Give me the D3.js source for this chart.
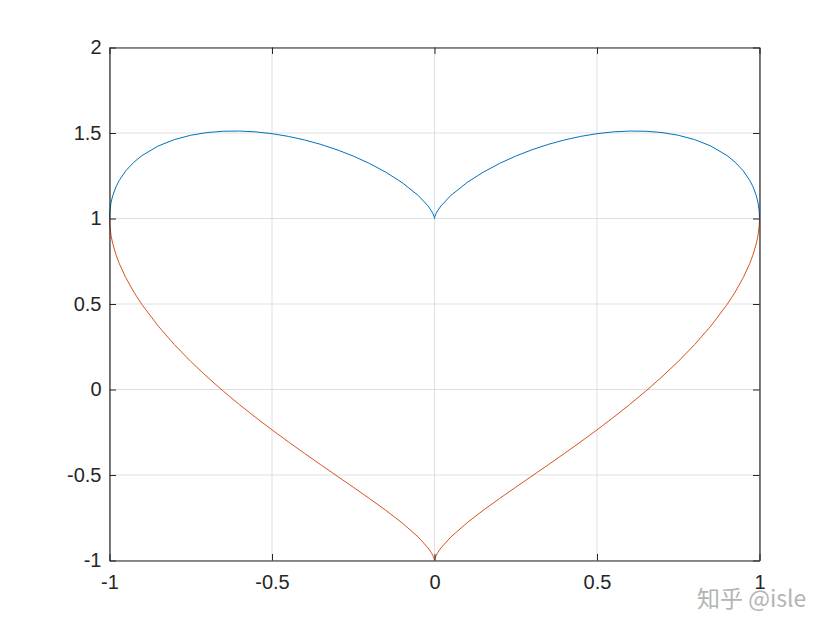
<!DOCTYPE html>
<html>
<head>
<meta charset="utf-8">
<script src="https://cdn.jsdelivr.net/npm/d3@7"></script>
<style>
  html, body { margin: 0; padding: 0; background: #fff; }
  svg { display: block; }
</style>
</head>
<body>
<svg id="chart" width="840" height="630"></svg>
<script>
// x positions
const xValues = [-1, -0.999, -0.995, -0.99, -0.98, -0.97, -0.95, -0.925, -0.9, -0.85, -0.8, -0.75, -0.7, -0.65, -0.6, -0.55, -0.5, -0.45, -0.4, -0.35, -0.3, -0.25, -0.2, -0.15, -0.1, -0.05, -0.02, -0.01, -0.005, -0.001, 0,
  0.001, 0.005, 0.01, 0.02, 0.05, 0.1, 0.15, 0.2, 0.25, 0.3, 0.35, 0.4, 0.45, 0.5, 0.55, 0.6, 0.65, 0.7, 0.75, 0.8, 0.85, 0.9, 0.925, 0.95, 0.97, 0.98, 0.99, 0.995, 0.999, 1];
// upper (blue) branch
const upperValues = [1, 1.044, 1.0965, 1.1344, 1.1856, 1.223, 1.2787, 1.3294, 1.3681, 1.4242, 1.4618, 1.4869, 1.5025, 1.5103, 1.5114, 1.5065, 1.496, 1.4803, 1.4594, 1.4334, 1.402, 1.3651, 1.3218, 1.271, 1.2104, 1.1345, 1.0735, 1.0464, 1.0292, 1.01, 1,
  1.01, 1.0292, 1.0464, 1.0735, 1.1345, 1.2104, 1.271, 1.3218, 1.3651, 1.402, 1.4334, 1.4594, 1.4803, 1.496, 1.5065, 1.5114, 1.5103, 1.5025, 1.4869, 1.4618, 1.4242, 1.3681, 1.3294, 1.2787, 1.223, 1.1856, 1.1344, 1.0965, 1.044, 1];
// lower (orange) branch
const lowerValues = [1, 0.9546, 0.8968, 0.8522, 0.7876, 0.7368, 0.6542, 0.5694, 0.4963, 0.3706, 0.2618, 0.1641, 0.0743, -0.0095, -0.0886, -0.1639, -0.236, -0.3057, -0.3736, -0.4402, -0.5058, -0.5714, -0.6378, -0.7064, -0.7796, -0.8631, -0.9261, -0.9536, -0.9708, -0.99, -1,
  -0.99, -0.9708, -0.9536, -0.9261, -0.8631, -0.7796, -0.7064, -0.6378, -0.5714, -0.5058, -0.4402, -0.3736, -0.3057, -0.236, -0.1639, -0.0886, -0.0095, 0.0743, 0.1641, 0.2618, 0.3706, 0.4963, 0.5694, 0.6542, 0.7368, 0.7876, 0.8522, 0.8968, 0.9546, 1];
const xTicks = [-1, -0.5, 0, 0.5, 1];
const xTickLabels = ["-1", "-0.5", "0", "0.5", "1"];
const yTicks = [-1, -0.5, 0, 0.5, 1, 1.5, 2];
const yTickLabels = ["-1", "-0.5", "0", "0.5", "1", "1.5", "2"];
const watermark = "知乎 @isle";

const svg = d3.select("#chart");
const L = 109.5, R = 759.5, T = 47.5, B = 560.5;
const x = d3.scaleLinear().domain([-1, 1]).range([L, R]);
const y = d3.scaleLinear().domain([-1, 2]).range([B, T]);
const font = "'Liberation Sans', Arial, Helvetica, sans-serif";

// grid
const g = svg.append("g");
g.selectAll(".gx").data(xTicks).enter().append("line")
  .attr("x1", d => x(d)).attr("x2", d => x(d)).attr("y1", T).attr("y2", B)
  .attr("stroke", "#dfdfdf").attr("stroke-width", 1);
g.selectAll(".gy").data(yTicks).enter().append("line")
  .attr("y1", d => y(d)).attr("y2", d => y(d)).attr("x1", L).attr("x2", R)
  .attr("stroke", "#dfdfdf").attr("stroke-width", 1);

// curves
const pts = (ys) => xValues.map((v, i) => [v, ys[i]]);
const line = d3.line().x(d => x(d[0])).y(d => y(d[1])).curve(d3.curveLinear);
svg.append("path").datum(pts(upperValues)).attr("d", line)
  .attr("fill", "none").attr("stroke", "#0072BD").attr("stroke-width", 1);
svg.append("path").datum(pts(lowerValues)).attr("d", line)
  .attr("fill", "none").attr("stroke", "#D95319").attr("stroke-width", 1);

// axes (MATLAB style: inward ticks, box)
const tickLen = 6.5;
const axB = svg.append("g").attr("transform", `translate(0,${B})`)
  .call(d3.axisBottom(x).tickValues(xTicks).tickFormat((d, i) => xTickLabels[i]).tickSizeInner(-tickLen).tickSizeOuter(0).tickPadding(14));
const axT = svg.append("g").attr("transform", `translate(0,${T})`)
  .call(d3.axisTop(x).tickValues(xTicks).tickFormat("").tickSizeInner(-tickLen).tickSizeOuter(0));
const axL = svg.append("g").attr("transform", `translate(${L},0)`)
  .call(d3.axisLeft(y).tickValues(yTicks).tickFormat((d, i) => yTickLabels[i]).tickSizeInner(-tickLen).tickSizeOuter(0).tickPadding(8));
const axR = svg.append("g").attr("transform", `translate(${R},0)`)
  .call(d3.axisRight(y).tickValues(yTicks).tickFormat("").tickSizeInner(-tickLen).tickSizeOuter(0));
[axB, axT, axL, axR].forEach(a => {
  a.select(".domain").attr("stroke", "#262626").attr("stroke-width", 1.2);
  a.selectAll(".tick line").attr("stroke", "#262626").attr("stroke-width", 1);
  a.selectAll("text").attr("font-family", font).attr("font-size", 20).attr("fill", "#262626");
});
axB.selectAll("text").attr("dy", "0.71em");

// watermark
svg.append("text").attr("x", 697).attr("y", 607).text(watermark)
  .attr("font-family", "'Noto Sans CJK SC', sans-serif").attr("font-size", 23)
  .attr("fill", "#b4b4b4").attr("stroke", "#fff").attr("stroke-width", 0.6).attr("paint-order", "stroke");
</script>
</body>
</html>
